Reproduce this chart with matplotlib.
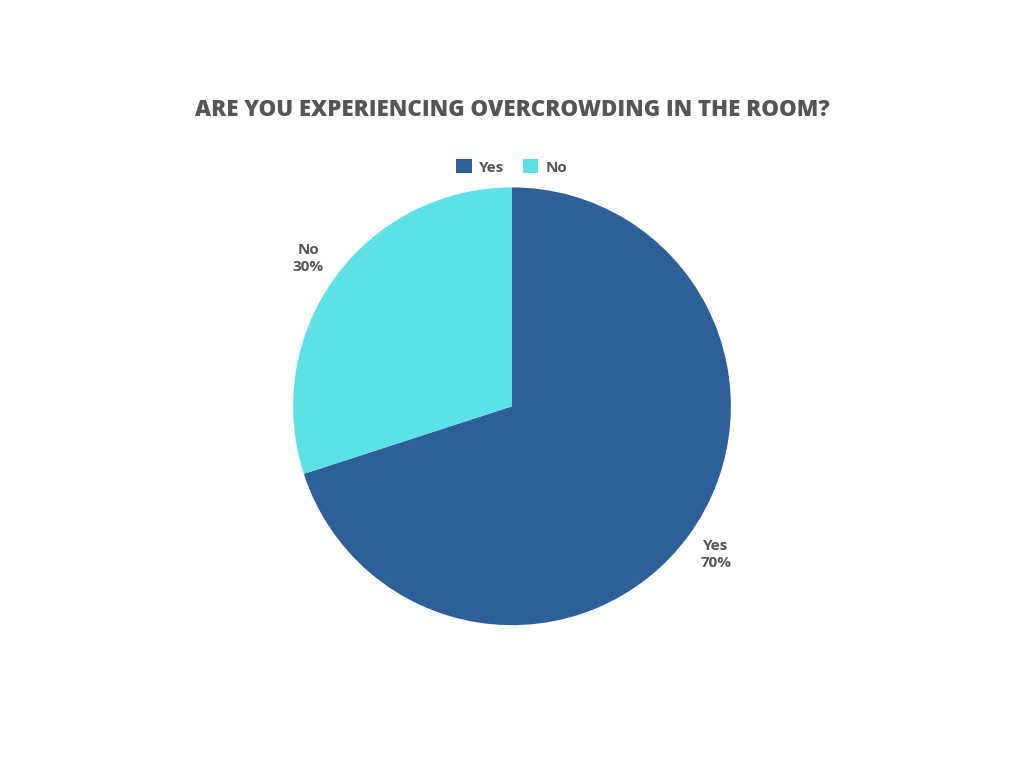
import matplotlib
matplotlib.use("Agg")
import matplotlib.pyplot as plt
from matplotlib.patches import Patch

categories = ["Yes", "No"]
values = [70, 30]
colors = ["#2E5F99", "#5CE1E6"]

plt.rcParams['font.family'] = ['Open Sans', 'DejaVu Sans']
fig = plt.figure(figsize=(10.24, 7.68), dpi=100)
ax = fig.add_axes([0.286, 0.186, 0.428, 0.570])
labels = [f"{c}\n{v}%" for c, v in zip(categories, values)]
wedges, texts = ax.pie(values, colors=colors, startangle=90, counterclock=False,
                       labels=labels, labeldistance=1.15,
                       textprops=dict(color="#555555", fontsize=11, fontweight="bold",
                                      ha="center", va="center", linespacing=1.3))
ax.set_xlim(-1, 1)
ax.set_ylim(-1, 1)
ax.set_aspect('equal')
for t in texts:
    t.set_clip_on(False)
fig.text(0.5, 1 - 110/768, "ARE YOU EXPERIENCING OVERCROWDING IN THE ROOM?",
         ha="center", va="center", fontsize=16, fontweight="heavy", color="#555555")
handles = [Patch(facecolor=c, label=l) for c, l in zip(colors, categories)]
fig.legend(handles=handles, loc="center", bbox_to_anchor=(0.5, 1 - 167/768), ncol=2,
           frameon=False, handlelength=1.0, handleheight=1.0, columnspacing=1.2,
           handletextpad=0.5, prop=dict(size=11, weight="bold"), labelcolor="#555555")
fig.savefig("out.png", dpi=100, facecolor="white")
